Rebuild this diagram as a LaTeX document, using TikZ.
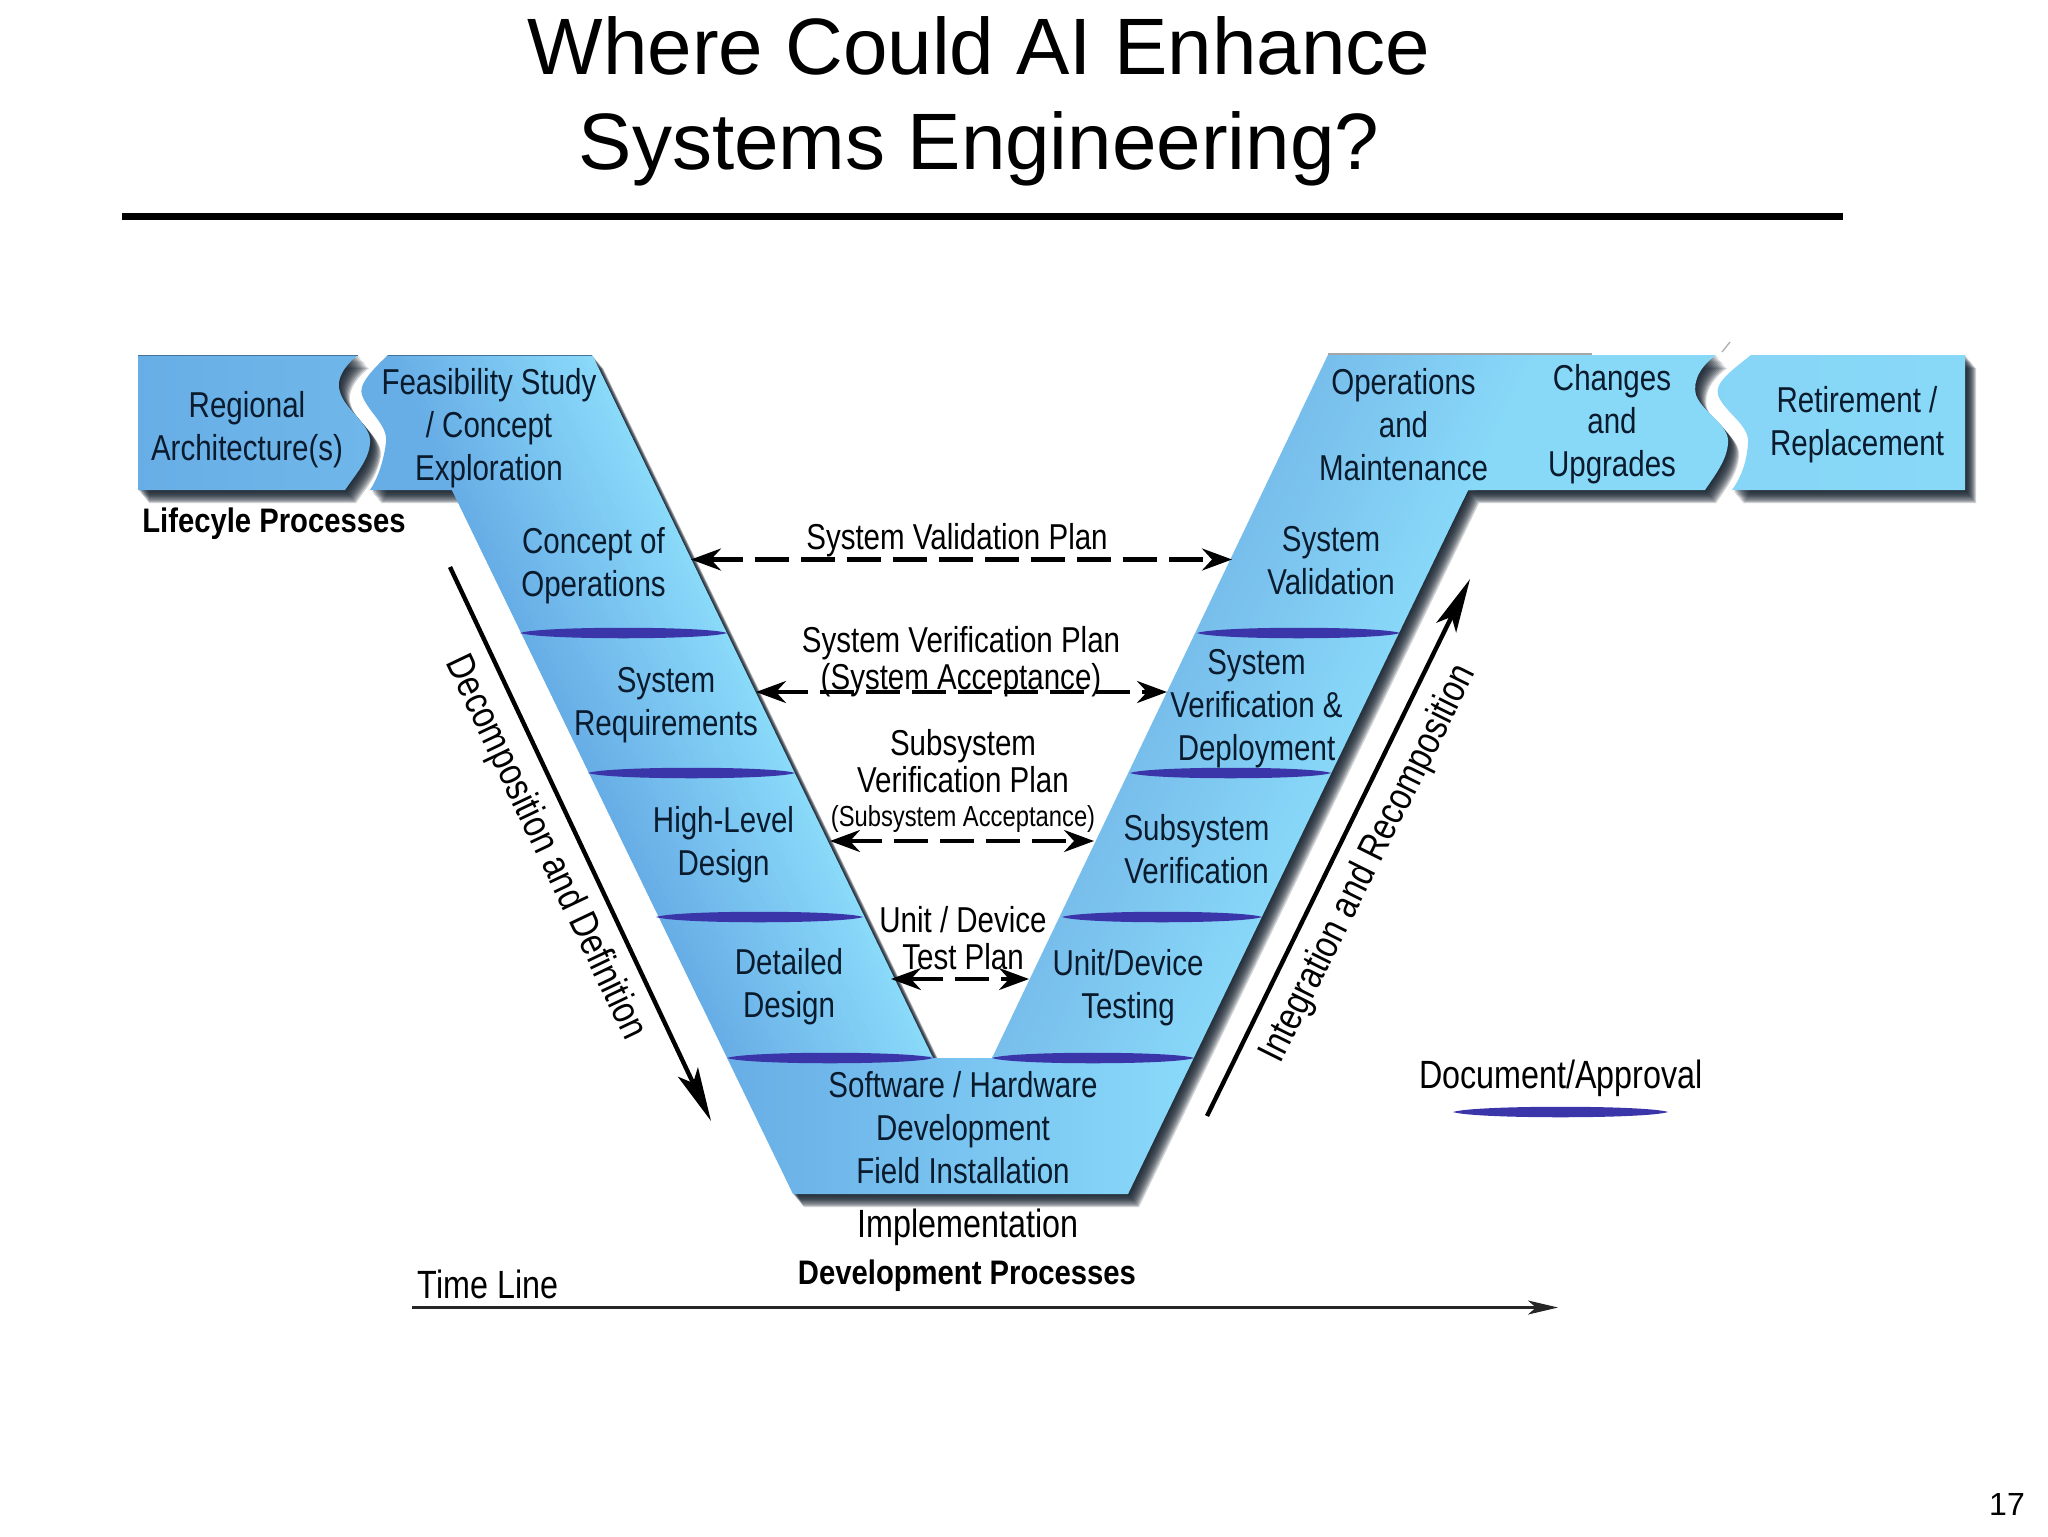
\documentclass[tikz,border=0pt]{standalone}
\usepackage{fontspec}
\usetikzlibrary{arrows.meta}
\setmainfont{Liberation Sans}
\newfontfamily\nar[FakeStretch=0.82]{Liberation Sans}
\newfontfamily\narr[FakeStretch=0.86]{Liberation Sans}
\definecolor{aLeft}{HTML}{68AEE6}
\definecolor{aRight}{HTML}{8ADAFA}
\definecolor{bLeft}{HTML}{78BEEC}
\definecolor{bRight}{HTML}{88D8F8}
\definecolor{barcol}{HTML}{3A35A8}
\definecolor{ink}{HTML}{0B1B2E}
\definecolor{shad}{HTML}{14202C}
\def\vpath{(388,355) -- (592,355) -- (933,1058) -- (992,1058) -- (1328,355) -- (1716,355)
  .. controls (1702,365) and (1692,380) .. (1696,395) .. controls (1702,412) and (1730,425) .. (1728,443)
  .. controls (1727,460) and (1715,475) .. (1705,490) -- (1468,490) -- (1128,1194) -- (793,1194) -- (452,490) -- (370,490)
  .. controls (378,478) and (384,460) .. (386,442) .. controls (388,425) and (368,412) .. (362,395)
  .. controls (358,385) and (372,370) .. (388,355) -- cycle}
\def\regpath{(138,355) -- (358,355) .. controls (345,365) and (335,380) .. (340,392)
  .. controls (345,410) and (372,425) .. (370,443) .. controls (369,460) and (355,475) .. (345,490) -- (138,490) -- cycle}
\def\retpath{(1751,355) .. controls (1735,368) and (1714,382) .. (1718,395)
  .. controls (1724,412) and (1750,425) .. (1748,443) .. controls (1747,460) and (1742,476) .. (1732,490)
  -- (1965,490) -- (1965,355) -- cycle}
\tikzset{
  x=0.5pt,y=-0.5pt,
  lab/.style={align=center,inner sep=0pt,text=ink,font=\nar\fontsize{18}{21.5}\selectfont},
  plain/.style={lab,text=black},
  tightlab/.style={plain,font=\nar\fontsize{18}{18.5}\selectfont},
  biglab/.style={plain,font=\nar\fontsize{19.7}{22}\selectfont},
  bold/.style={inner sep=0pt,text=black,font=\narr\bfseries\fontsize{17}{20}\selectfont},
  dashArrow/.style={line width=2.1pt,black,dash pattern=on 17pt off 6pt,{Stealth[length=15pt,width=11pt,inset=5pt,sep=0pt]}-{Stealth[length=15pt,width=11pt,inset=5pt,sep=0pt]}},
  longArrow/.style={line width=2.2pt,black,-{Stealth[length=27pt,width=11pt,inset=6pt]}},
  lens/.style={fill=barcol,draw=none},
}
% bar as a lens from x1 to x2 at y
\newcommand{\lensbar}[3]{\fill[lens] (#1,#3) .. controls ({#1+0.1*(#2-#1)},{#3-7}) and ({#1+0.9*(#2-#1)},{#3-7}) .. (#2,#3) .. controls ({#1+0.9*(#2-#1)},{#3+7}) and ({#1+0.1*(#2-#1)},{#3+7}) .. (#1,#3) -- cycle;}
\begin{document}
\begin{tikzpicture}
\useasboundingbox (0,0) rectangle (2048,1536);
\fill[white] (0,0) rectangle (2048,1536);
% title
\node[inner sep=0pt,align=center,font=\fontsize{40}{47.5}\selectfont,text=black] (title) at (979,101.5) {Where Could AI Enhance\\Systems Engineering?};
\fill[black] (122,213) rectangle (1843,220);
% soft shadows
\foreach \s in {11,10,...,1}{
  \fill[shad,opacity=0.2,shift={(\s,1.2*\s)}] \vpath;
  \fill[shad,opacity=0.2,shift={(\s,1.2*\s)}] \regpath;
  \fill[shad,opacity=0.2,shift={(\s,1.2*\s)}] \retpath;
}
% white gaps along the breaks
\draw[white,line width=2.5pt] (388,355) .. controls (372,370) and (358,385) .. (362,395) .. controls (368,412) and (388,425) .. (386,442) .. controls (384,460) and (378,478) .. (370,490);
\draw[white,line width=2.5pt] (1751,355) .. controls (1735,368) and (1714,382) .. (1718,395) .. controls (1724,412) and (1750,425) .. (1748,443) .. controls (1747,460) and (1742,476) .. (1732,490);
% end boxes
\shade[left color=aLeft,right color=aLeft!78!bRight] \regpath;
\shade[left color=bRight!90!bLeft,right color=bRight] \retpath;
% V body
\begin{scope}
  \clip \vpath;
  \fill[aLeft] (300,340) rectangle (700,1060);
  \foreach \k in {0,...,34}{
    \pgfmathsetmacro{\off}{\k*6}
    \pgfmathsetmacro{\t}{\k/34*100}
    \fill[aRight!\t!aLeft] ({386+\off},355) -- ({386+\off+8},355) -- ({726+\off+8},1058) -- ({726+\off},1058) -- cycle;
  }
  \fill[bRight] (1300,340) rectangle (1760,500);
  \foreach \k in {0,...,34}{
    \pgfmathsetmacro{\off}{\k*6}
    \pgfmathsetmacro{\t}{\k/34*100}
    \fill[bRight!\t!bLeft] ({1328+\off},355) -- ({1328+\off+8},355) -- ({992+\off+8},1058) -- ({992+\off},1058) -- cycle;
  }
  \shade[left color=aLeft,right color=aRight] (727,1056) rectangle (1194,1200);
\end{scope}
% top edge lines and speck
\draw[gray!70,line width=0.6pt] (1328,354) -- (1592,354);
\draw[black!35!aLeft,line width=0.5pt] (138,355) -- (358,355) (388,355) -- (592,355);
\draw[gray!60,line width=0.7pt] (1722,352) -- (1730,342);
% document bars
\lensbar{520}{727}{633}
\lensbar{588}{795}{773}
\lensbar{656}{863}{917}
\lensbar{727}{933}{1058}
\lensbar{1197}{1400}{633}
\lensbar{1130}{1331}{773}
\lensbar{1062}{1262}{917}
\lensbar{992}{1194}{1058}
\lensbar{1453}{1668}{1112}
% text in the V
\node[lab] (regional) at (247,430) {Regional\\Architecture(s)};
\node[lab] (feas) at (489,428) {Feasibility Study\\/ Concept\\Exploration};
\node[lab] (conops) at (593.5,566) {Concept of\\Operations};
\node[lab] (sysreq) at (666,705) {System\\Requirements};
\node[lab] (hld) at (723.5,845) {High-Level\\Design};
\node[lab] (dd) at (789,987) {Detailed\\Design};
\node[lab] (sw) at (963,1127.5) {Software / Hardware\\Development\\Field Installation};
\node[biglab] (impl) at (968,1227) {Implementation};
\node[bold] (devp) at (967,1276) {Development Processes};
\node[bold] (life) at (274,524) {Lifecyle Processes};
\node[lab] (ops) at (1403.5,425) {Operations\\and\\Maintenance};
\node[lab] (chg) at (1612,424) {Changes\\and\\Upgrades};
\node[lab] (ret) at (1857,424.5) {Retirement /\\Replacement};
\node[lab] (sysval) at (1331,561) {System\\Validation};
\node[lab] (sysver) at (1256.5,709) {System\\Verification \&\\Deployment};
\node[lab] (subver) at (1196.5,849) {Subsystem\\Verification};
\node[lab] (unit) at (1128,987.7) {Unit/Device\\Testing};
% plan labels
\node[plain] (p1) at (957,540) {System Validation Plan};
\node[tightlab] (p2) at (961,661.5) {System Verification Plan\\(System Acceptance)};
\node[tightlab] (p3) at (963,761) {Subsystem\\Verification Plan};
\node[plain,font=\nar\fontsize{14.5}{17}\selectfont] (p3b) at (963,819.4) {(Subsystem Acceptance)};
\node[tightlab] (p4) at (963,938) {Unit / Device\\Test Plan};
% dashed plan arrows
\coordinate (a1l) at (691,559.5); \coordinate (a1r) at (1232,559.5);
\coordinate (a2l) at (756,692); \coordinate (a2r) at (1167,692);
\coordinate (a3l) at (830,841); \coordinate (a3r) at (1094,841);
\coordinate (a4l) at (891,979); \coordinate (a4r) at (1029,979);
\draw[dashArrow] (a1l) -- (a1r);
\draw[dashArrow] (a2l) -- (a2r);
\draw[dashArrow] (a3l) -- (a3r);
\draw[dashArrow] (a4l) -- (a4r);
% long arrows
\coordinate (d1) at (450,567); \coordinate (d2) at (711,1121);
\coordinate (i1) at (1207,1116); \coordinate (i2) at (1470,579);
\draw[longArrow] (d1) -- (d2);
\draw[longArrow] (i1) -- (i2);
\node[biglab,rotate=-64.5] (dec) at (545,848) {Decomposition and Definition};
\node[biglab,rotate=63.5] (int) at (1369,864) {Integration and Recomposition};
% legend and time line
\node[biglab] (docap) at (1561,1078) {Document/Approval};
\node[biglab] (tl) at (488,1284) {Time Line};
\coordinate (t1) at (412,1307.5); \coordinate (t2) at (1558,1307.5);
\draw[line width=1.5pt,black!85,-{Stealth[length=15pt,width=7pt,inset=4pt]}] (t1) -- (t2);
\node[inner sep=0pt,font=\fontsize{16}{18}\selectfont,text=black] (pg) at (2007,1504) {17};
\end{tikzpicture}
\end{document}
